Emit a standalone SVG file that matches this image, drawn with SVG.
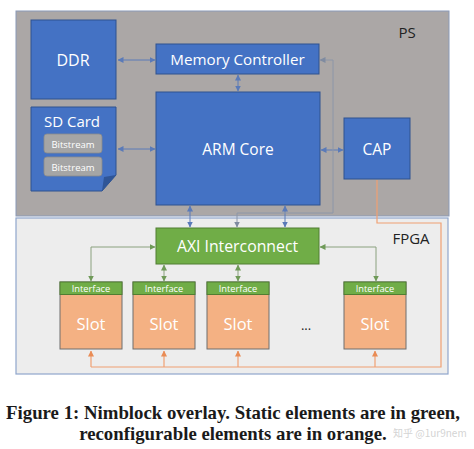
<svg xmlns="http://www.w3.org/2000/svg" width="474" height="449" viewBox="0 0 474 449">
<defs>
<style>
.blue{fill:#4472c4;stroke:#2f528f;stroke-width:1}
.green{fill:#70ad47;stroke:#507e32;stroke-width:1}
.slot{fill:#f4b183;stroke:#6f6f6f;stroke-width:1}
.t{font-family:"Open Sans","Noto Sans",sans-serif;fill:#ffffff;text-anchor:middle}
.lbl{font-family:"Open Sans","Noto Sans",sans-serif;fill:#222222;text-anchor:middle}
.bl{stroke:#5a7ab8;stroke-width:1;fill:none}
.gr{stroke:#8aa17e;stroke-width:1;fill:none}
.gy{stroke:#8c96a8;stroke-width:1;fill:none}
.or{stroke:#f0a072;stroke-width:1.2;fill:none}
.cap{font-family:"Liberation Serif","Times New Roman",serif;font-weight:bold;fill:#1a1a1a;text-anchor:middle;font-size:18.8px}
</style>
<marker id="ab" viewBox="0 0 6 6" refX="5.5" refY="3" markerWidth="6" markerHeight="6" orient="auto-start-reverse" markerUnits="userSpaceOnUse"><path d="M0,0 L6,3 L0,6 z" fill="#5a7ab8"/></marker>
<marker id="ag" viewBox="0 0 6 6" refX="5.5" refY="3" markerWidth="6" markerHeight="6" orient="auto-start-reverse" markerUnits="userSpaceOnUse"><path d="M0,0 L6,3 L0,6 z" fill="#6f9a58"/></marker>
<marker id="ay" viewBox="0 0 6 6" refX="5.5" refY="3" markerWidth="6" markerHeight="6" orient="auto-start-reverse" markerUnits="userSpaceOnUse"><path d="M0,0 L6,3 L0,6 z" fill="#7f8ba0"/></marker>
<marker id="ao" viewBox="0 0 6 6" refX="5.5" refY="3" markerWidth="6" markerHeight="6" orient="auto" markerUnits="userSpaceOnUse"><path d="M0,0 L6,3 L0,6 z" fill="#e98c55"/></marker>
</defs>
<rect width="474" height="449" fill="#ffffff"/>
<g id="ps">
<rect x="16" y="11" width="433" height="205" fill="#aba7a6" stroke="#8a9ab8" stroke-width="1"/>
<text class="lbl" x="407" y="38" font-size="15">PS</text>
</g>
<g id="fpga">
<rect x="16" y="218" width="432" height="156" fill="#ededed" stroke="#8fa6cc" stroke-width="1.2"/>
<text class="lbl" x="411" y="244" font-size="15">FPGA</text>
</g>
<g id="connectors">
<line class="bl" x1="118" y1="60" x2="155" y2="60" marker-start="url(#ab)" marker-end="url(#ab)"/>
<line class="bl" x1="118" y1="149" x2="155" y2="149" marker-start="url(#ab)" marker-end="url(#ab)"/>
<line class="bl" x1="238" y1="75" x2="238" y2="91" marker-start="url(#ab)" marker-end="url(#ab)"/>
<line class="bl" x1="321" y1="150" x2="343" y2="150" marker-start="url(#ab)" marker-end="url(#ab)"/>
<line class="bl" x1="190" y1="206" x2="190" y2="227" marker-start="url(#ab)" marker-end="url(#ab)"/>
<line class="bl" x1="285" y1="206" x2="285" y2="227" marker-start="url(#ab)" marker-end="url(#ab)"/>
<polyline class="gy" points="333,60 333,213 237,213 237,227" marker-end="url(#ay)"/>
<line class="gy" x1="333" y1="60" x2="320" y2="60" marker-end="url(#ay)"/>
<polyline class="gr" points="155,247 91,247 91,281" marker-start="url(#ag)" marker-end="url(#ag)"/>
<line class="gr" x1="164" y1="265" x2="164" y2="281" marker-start="url(#ag)" marker-end="url(#ag)"/>
<line class="gr" x1="238" y1="265" x2="238" y2="281" marker-start="url(#ag)" marker-end="url(#ag)"/>
<polyline class="gr" points="320,247 376,247 376,281" marker-start="url(#ag)" marker-end="url(#ag)"/>
<polyline class="or" points="377,180 377,223 441,223 441,367 91,367"/>
<line class="or" x1="91" y1="367" x2="91" y2="351" marker-end="url(#ao)"/>
<line class="or" x1="164" y1="367" x2="164" y2="351" marker-end="url(#ao)"/>
<line class="or" x1="238" y1="367" x2="238" y2="351" marker-end="url(#ao)"/>
<line class="or" x1="375" y1="367" x2="375" y2="351" marker-end="url(#ao)"/>
</g>
<g id="ddr">
<rect class="blue" x="31" y="20" width="85" height="79"/>
<text class="t" x="73" y="66" font-size="16">DDR</text>
</g>
<g id="sdcard">
<path class="blue" d="M31,107 H116 V175 L102,191 H31 Z"/>
<path d="M116,175 L102,191 L104,177 Z" fill="#2f5597"/>
<text class="t" x="72" y="127" font-size="15">SD Card</text>
<rect x="44" y="134" width="58" height="19" rx="3" fill="#a5a5a5" stroke="#8c8c8c" stroke-width="0.8"/>
<text class="t" x="73" y="147.5" font-size="9.5" fill="#e6e6e6">Bitstream</text>
<rect x="44" y="157" width="58" height="19" rx="3" fill="#a5a5a5" stroke="#8c8c8c" stroke-width="0.8"/>
<text class="t" x="73" y="170.5" font-size="9.5" fill="#e6e6e6">Bitstream</text>
</g>
<g id="memctrl">
<rect class="blue" x="156" y="44" width="163" height="30"/>
<text class="t" x="237.5" y="65" font-size="15.2">Memory Controller</text>
</g>
<g id="armcore">
<rect class="blue" x="156" y="92" width="164" height="113"/>
<text class="t" x="238" y="155" font-size="15.5">ARM Core</text>
</g>
<g id="cap">
<rect class="blue" x="344" y="118" width="66" height="61"/>
<text class="t" x="377" y="155" font-size="15.5">CAP</text>
</g>
<g id="axi">
<rect class="green" x="156" y="228" width="163" height="36"/>
<text class="t" x="237.5" y="251.5" font-size="15.8">AXI Interconnect</text>
</g>
<g id="slot1">
<rect class="slot" x="60" y="282" width="62" height="67"/>
<rect class="green" x="60" y="282" width="62" height="12.5" stroke="#6f6f6f"/>
<text class="t" x="91" y="292" font-size="9.3">Interface</text>
<text class="t" x="91" y="330" font-size="16.5">Slot</text>
</g>
<g id="slot2">
<rect class="slot" x="133" y="282" width="62" height="67"/>
<rect class="green" x="133" y="282" width="62" height="12.5" stroke="#6f6f6f"/>
<text class="t" x="164" y="292" font-size="9.3">Interface</text>
<text class="t" x="164" y="330" font-size="16.5">Slot</text>
</g>
<g id="slot3">
<rect class="slot" x="207" y="282" width="62" height="67"/>
<rect class="green" x="207" y="282" width="62" height="12.5" stroke="#6f6f6f"/>
<text class="t" x="238" y="292" font-size="9.3">Interface</text>
<text class="t" x="238" y="330" font-size="16.5">Slot</text>
</g>
<g id="dots">
<text class="lbl" x="306" y="330" font-size="13">...</text>
</g>
<g id="slot4">
<rect class="slot" x="344" y="282" width="62" height="67"/>
<rect class="green" x="344" y="282" width="62" height="12.5" stroke="#6f6f6f"/>
<text class="t" x="375" y="292" font-size="9.3">Interface</text>
<text class="t" x="375" y="330" font-size="16.5">Slot</text>
</g>
<g id="caption">
<text class="cap" x="233" y="419">Figure 1: Nimblock overlay. Static elements are in green,</text>
<text class="cap" x="233" y="440">reconfigurable elements are in orange.</text>
<text x="393" y="437" font-family="'Noto Sans CJK SC','Noto Sans',sans-serif" font-size="10" fill="#c8c8c8" fill-opacity="0.8">知乎 @1ur9nem</text>
</g>
</svg>
